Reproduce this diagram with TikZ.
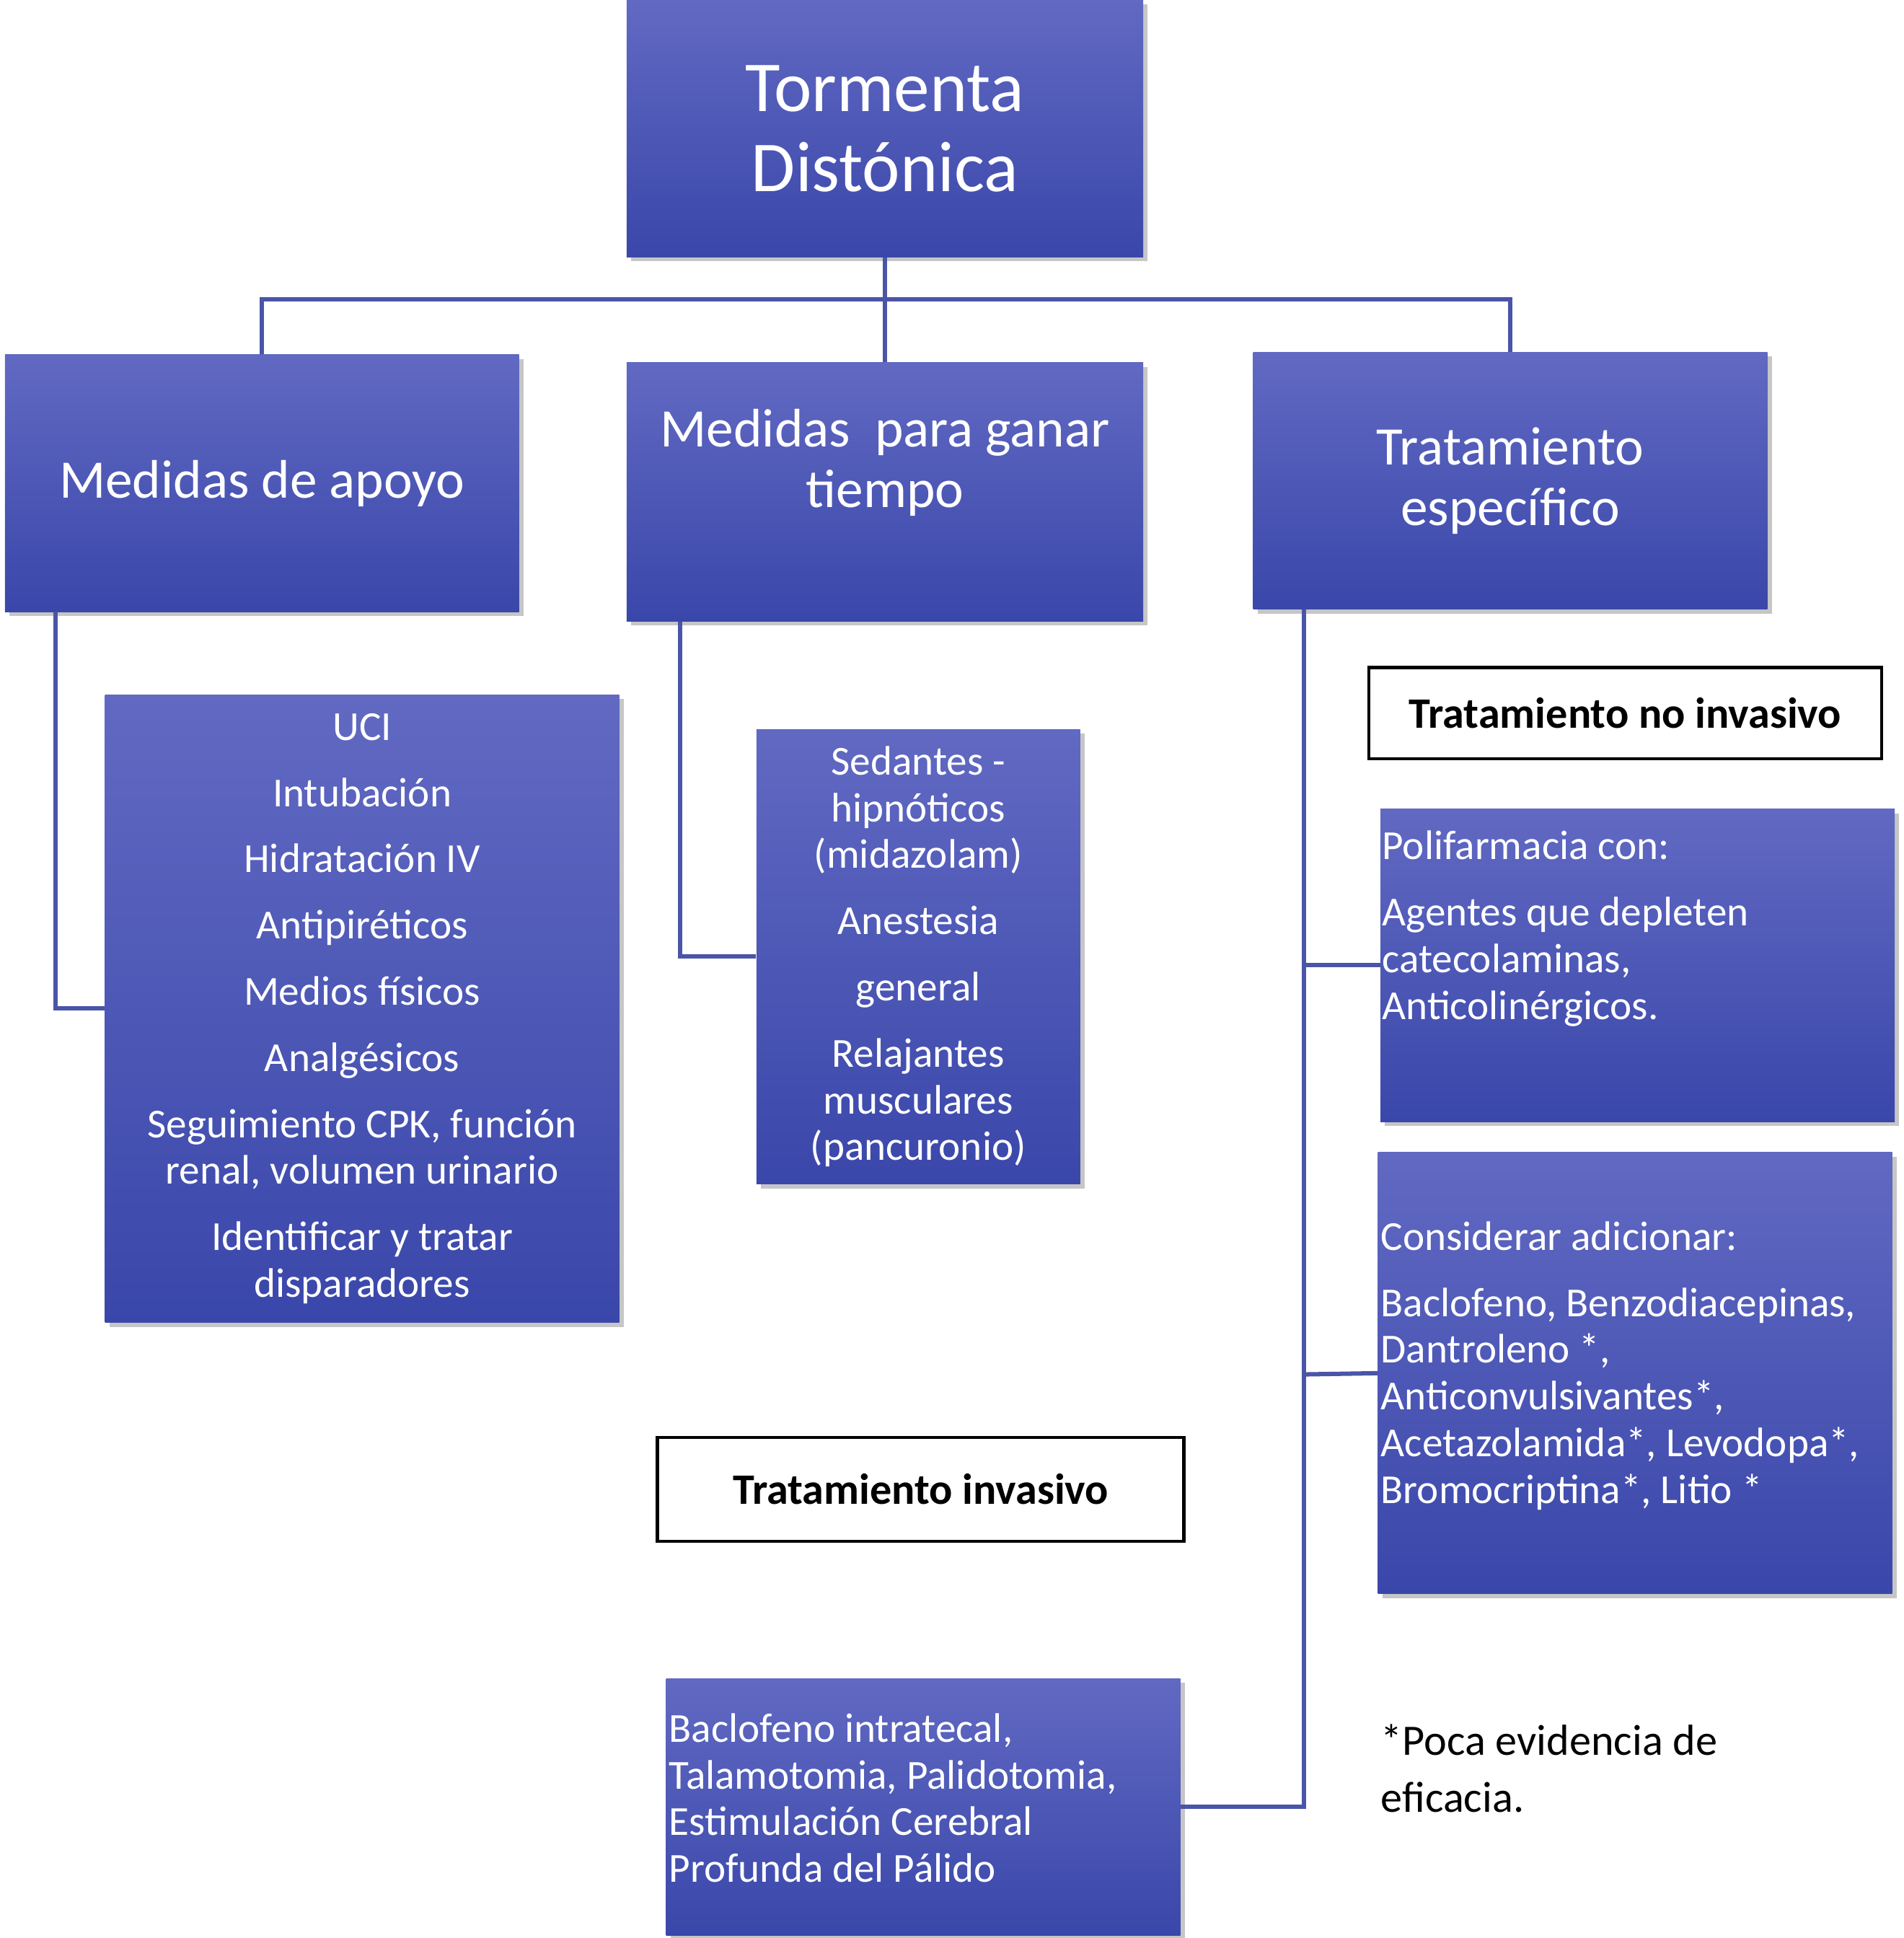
\documentclass[tikz,border=0pt]{standalone}
\usepackage{fontspec}
\setmainfont{Carlito}
\usetikzlibrary{shadows}
\definecolor{boxtop}{HTML}{6169C2}
\definecolor{boxbot}{HTML}{3A47AA}
\definecolor{linec}{HTML}{4A55A8}
\tikzset{
 box/.style={draw=none, top color=boxtop, bottom color=boxbot, text=white, inner sep=0pt,
   drop shadow={shadow xshift=2pt, shadow yshift=-2pt, opacity=0.45}},
 wbox/.style={draw=black, line width=1.5pt, fill=white, text=black, inner sep=0pt, font=\fontsize{20}{24}\selectfont\bfseries},
 conn/.style={draw=linec, line width=2pt},
}
\begin{document}
\begin{tikzpicture}[x=0.02cm,y=-0.02cm]
\useasboundingbox (0,0) rectangle (1540,1568);
% boxes
\node[box, minimum width=418*0.02cm, minimum height=208*0.02cm, align=center, font=\fontsize{33}{37}\selectfont] (T) at (716,104) {Tormenta\\Distónica};
\node[box, minimum width=416*0.02cm, minimum height=208*0.02cm, align=center, font=\fontsize{25}{28}\selectfont] (A) at (212,391) {Medidas de apoyo};
\node[box, minimum width=418*0.02cm, minimum height=209*0.02cm, align=center, font=\fontsize{25}{28}\selectfont] (B) at (716,398) {Medidas\ \ para ganar\\tiempo\\[3pt]};
\node[box, minimum width=416*0.02cm, minimum height=208*0.02cm, align=center, font=\fontsize{25}{28}\selectfont] (C) at (1222,389) {Tratamiento\\específico};
\node[box, minimum width=416*0.02cm, minimum height=508*0.02cm, align=center, font=\fontsize{19}{21.5}\selectfont] (AL) at (293,816) {UCI\\[9pt]Intubación\\[9pt]Hidratación IV\\[9pt]Antipiréticos\\[9pt]Medios físicos\\[9pt]Analgésicos\\[9pt]Seguimiento CPK, función\\renal, volumen urinario\\[9pt]Identificar y tratar\\disparadores};
\node[box, minimum width=262*0.02cm, minimum height=368*0.02cm, align=center, font=\fontsize{19}{21.5}\selectfont] (BL) at (743,774) {Sedantes -\\hipnóticos\\(midazolam)\\[9pt]Anestesia\\[9pt]general\\[9pt]Relajantes\\musculares\\(pancuronio)};
\node[wbox, minimum width=415*0.02cm, minimum height=74*0.02cm] (NI) at (1315,577) {Tratamiento no invasivo};
\node[box, minimum width=416*0.02cm, minimum height=253*0.02cm] (P) at (1325,781) {};
\node[anchor=north west, text=white, align=left, font=\fontsize{19}{21.5}\selectfont, inner sep=0pt] (Pt) at (1118,672) {Polifarmacia con:\\[9pt]Agentes que depleten\\catecolaminas,\\Anticolinérgicos.};
\node[box, minimum width=416*0.02cm, minimum height=357*0.02cm] (K) at (1323,1111) {};
\node[anchor=north west, text=white, align=left, font=\fontsize{19}{21.5}\selectfont, inner sep=0pt] (Kt) at (1117,988) {Considerar adicionar:\\[9pt]Baclofeno, Benzodiacepinas,\\Dantroleno *,\\Anticonvulsivantes*,\\Acetazolamida*, Levodopa*,\\Bromocriptina*, Litio *};
\node[wbox, minimum width=426*0.02cm, minimum height=84*0.02cm] (IN) at (745,1205) {Tratamiento invasivo};
\node[box, minimum width=416*0.02cm, minimum height=208*0.02cm] (IL) at (747,1462) {};
\node[anchor=north west, text=white, align=left, font=\fontsize{19}{21.5}\selectfont, inner sep=0pt] (ILt) at (541,1386) {Baclofeno intratecal,\\Talamotomia, Palidotomia,\\Estimulación Cerebral\\Profunda del Pálido};
\node[anchor=north west, text=black, align=left, font=\fontsize{20}{26}\selectfont, inner sep=0pt] (note) at (1117,1395) {*Poca evidencia de\\eficacia.};
% connectors
\coordinate (h) at (716,242);
\draw[conn] (T.south) -- (h);
\draw[conn] (A.north) |- (h) -| (C.north);
\draw[conn] (h) -- (B.north);
\draw[conn] (45,495) |- (AL.west);
\draw[conn] (550,503) |- (BL.west);
\draw[conn] (1055,493) -- (1055,1462) -- (IL.east);
\draw[conn] (1055,781) -- (P.west);
\draw[conn] (1055,1112) -- (K.west);
\end{tikzpicture}
\end{document}
